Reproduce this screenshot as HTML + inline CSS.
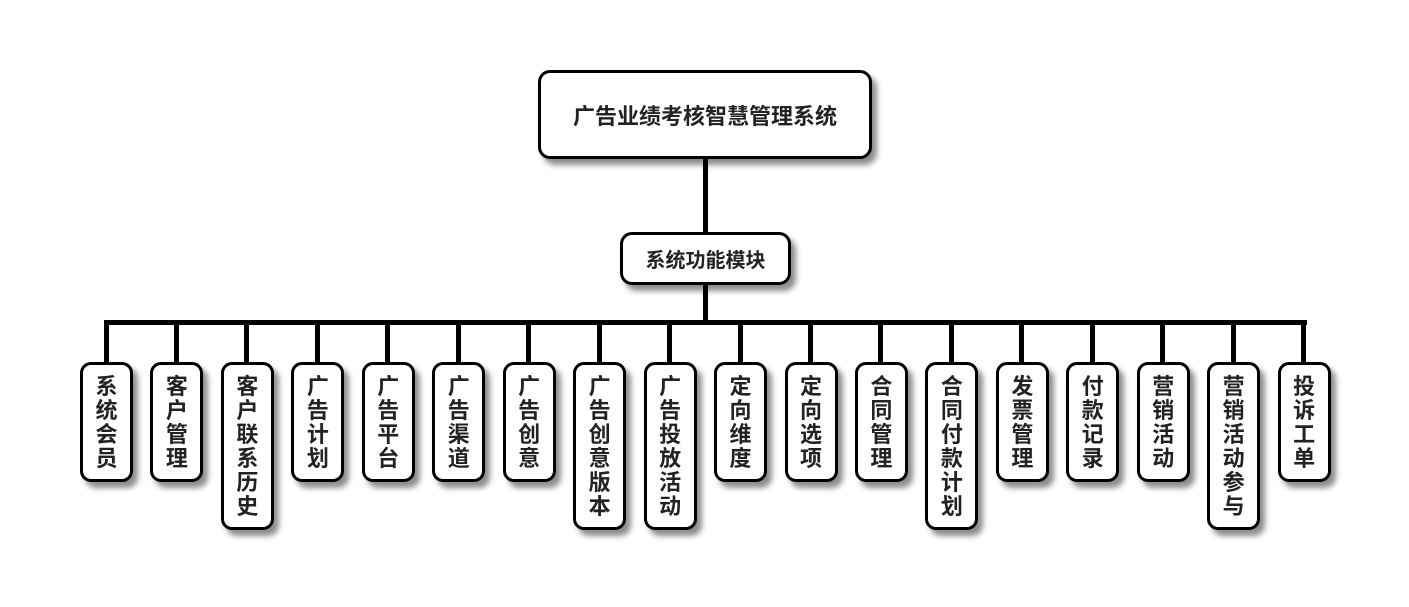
<!DOCTYPE html>
<html><head><meta charset="utf-8"><style>
body{margin:0;width:1409px;height:607px;background:#fff;position:relative;overflow:hidden;font-family:"Liberation Sans","Noto Sans CJK SC",sans-serif;}
.b{position:absolute;box-sizing:border-box;border:3px solid #000;background:#fff;border-radius:12px;box-shadow:5px 6px 6px rgba(0,0,0,0.45);color:#222;font-weight:bold;display:flex;align-items:center;justify-content:center;}
.v{position:absolute;box-sizing:border-box;border:3px solid #000;background:#fff;border-radius:11px;box-shadow:5px 6px 6px rgba(0,0,0,0.45);color:#222;font-weight:bold;width:53px;top:362px;font-size:22px;line-height:24px;text-align:center;padding-top:10px;}
.l{position:absolute;background:#000;}
</style></head><body>
<div class="l" style="left:703px;top:156px;width:5px;height:78px"></div>
<div class="l" style="left:703px;top:283px;width:5px;height:40px"></div>
<div class="l" style="left:104px;top:320px;width:1203px;height:5px"></div>
<div class="b" style="left:538px;top:70px;width:334px;height:89px;font-size:22px">广告业绩考核智慧管理系统</div>
<div class="b" style="left:620px;top:232px;width:171px;height:53px;font-size:20px">系统功能模块</div>
<div id="c"></div>
<script>
var n=["系统会员","客户管理","客户联系历史","广告计划","广告平台","广告渠道","广告创意","广告创意版本","广告投放活动","定向维度","定向选项","合同管理","合同付款计划","发票管理","付款记录","营销活动","营销活动参与","投诉工单"];
var h="";
for(var i=0;i<n.length;i++){var cx=106+i*70.45;var ht=n[i].length*24+24;
h+='<div class="l" style="left:'+(cx-2.5)+'px;top:320px;width:5px;height:44px"></div>';
h+='<div class="v" style="left:'+(cx-26)+'px;height:'+ht+'px">'+n[i].split("").join("<br>")+'</div>';}
document.getElementById("c").innerHTML=h;
</script>
</body></html>
